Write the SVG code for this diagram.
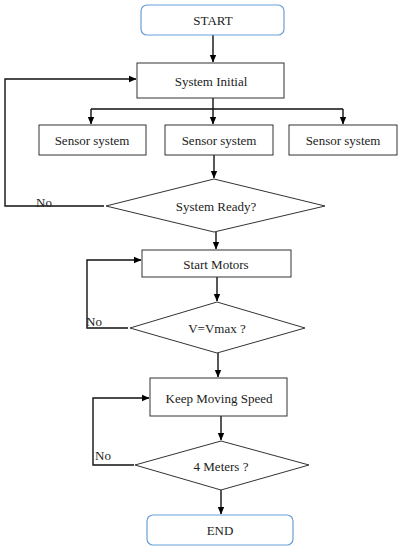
<svg xmlns="http://www.w3.org/2000/svg" width="401" height="550" viewBox="0 0 401 550">
<defs>
<marker id="ah" markerWidth="8" markerHeight="8" refX="7" refY="4" orient="auto" markerUnits="userSpaceOnUse">
<path d="M0,0.8 L7.5,4 L0,7.2 Z" fill="#000"/>
</marker>
<style>
.box{fill:#fff;stroke:#333;stroke-width:1}
.term{fill:#fff;stroke:#6a9fd8;stroke-width:1.2}
.t{font-family:"Liberation Serif","Times New Roman",serif;font-size:13px;fill:#222;text-anchor:middle;dominant-baseline:central}
.lbl{font-family:"Liberation Serif","Times New Roman",serif;font-size:13px;fill:#222}
.c{fill:none;stroke:#111;stroke-width:1.4}
</style>
</defs>
<rect width="401" height="550" fill="#fff"/>
<g id="connectors">
<path class="c" d="M213,35 V62" marker-end="url(#ah)"/>
<path class="c" d="M213,98 V109 M91,109 H343"/>
<path class="c" d="M91,109 V124" marker-end="url(#ah)"/>
<path class="c" d="M213,109 V124" marker-end="url(#ah)"/>
<path class="c" d="M343,109 V124" marker-end="url(#ah)"/>
<path class="c" d="M214,155 V178" marker-end="url(#ah)"/>
<path class="c" d="M104,206 H5 V79 H136" marker-end="url(#ah)"/>
<path class="c" d="M216,232 V249" marker-end="url(#ah)"/>
<path class="c" d="M217,277 V301" marker-end="url(#ah)"/>
<path class="c" d="M128,328 H87 V260 H141" marker-end="url(#ah)"/>
<path class="c" d="M218,353 V377" marker-end="url(#ah)"/>
<path class="c" d="M221,416 V440" marker-end="url(#ah)"/>
<path class="c" d="M134,465 H93 V398 H149" marker-end="url(#ah)"/>
<path class="c" d="M221,490 V514" marker-end="url(#ah)"/>
<text class="lbl" x="36" y="207">No</text>
<text class="lbl" x="86" y="326">No</text>
<text class="lbl" x="95" y="460">No</text>
</g>
<g id="start"><rect class="term" x="141" y="5" width="143" height="30" rx="6"/><text class="t" x="213" y="20">START</text></g>
<g id="system-initial"><rect class="box" x="137" y="63" width="147" height="35"/><text class="t" x="211" y="81">System Initial</text></g>
<g id="sensor1"><rect class="box" x="39" y="125" width="107" height="30"/><text class="t" x="92" y="140">Sensor system</text></g>
<g id="sensor2"><rect class="box" x="165" y="125" width="108" height="30"/><text class="t" x="219" y="140">Sensor system</text></g>
<g id="sensor3"><rect class="box" x="289" y="125" width="108" height="30"/><text class="t" x="343" y="140">Sensor system</text></g>
<g id="system-ready"><polygon class="box" points="214,179 325,206 214,232 106,206"/><text class="t" x="216" y="206">System Ready?</text></g>
<g id="start-motors"><rect class="box" x="142" y="250" width="149" height="27"/><text class="t" x="216" y="264">Start Motors</text></g>
<g id="vmax"><polygon class="box" points="217,302 305,328 217,353 130,328"/><text class="t" x="217" y="328">V=Vmax ?</text></g>
<g id="keep-moving"><rect class="box" x="150" y="378" width="137" height="38"/><text class="t" x="219" y="398">Keep Moving Speed</text></g>
<g id="four-meters"><polygon class="box" points="221,441 309,465 221,490 135,465"/><text class="t" x="221" y="466">4 Meters ?</text></g>
<g id="end"><rect class="term" x="147" y="515" width="146" height="30" rx="6"/><text class="t" x="220" y="530">END</text></g>
</svg>
